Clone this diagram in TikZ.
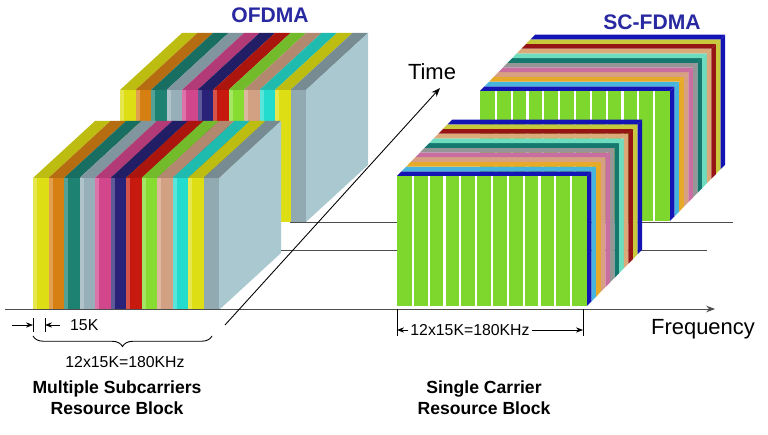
\documentclass[tikz,border=0pt]{standalone}
\usepackage{fontspec}
\setmainfont{Liberation Sans}
\usetikzlibrary{arrows.meta,decorations.pathreplacing,calc}
\definecolor{oy}{RGB}{222,222,20}
\definecolor{oo}{RGB}{214,128,20}
\definecolor{ot}{RGB}{30,130,115}
\definecolor{og}{RGB}{150,175,185}
\definecolor{op}{RGB}{210,70,140}
\definecolor{on}{RGB}{40,35,120}
\definecolor{ore}{RGB}{200,25,15}
\definecolor{ogr}{RGB}{135,220,50}
\definecolor{ota}{RGB}{210,160,130}
\definecolor{oc}{RGB}{35,220,205}
\definecolor{ogb}{RGB}{170,200,208}
\definecolor{scgreen}{RGB}{125,215,45}
\definecolor{sca}{RGB}{20,20,180}
\definecolor{scb}{RGB}{70,180,220}
\definecolor{scc}{RGB}{230,170,40}
\definecolor{scd}{RGB}{215,160,130}
\definecolor{sce}{RGB}{200,110,160}
\definecolor{scf}{RGB}{150,150,150}
\definecolor{scg}{RGB}{20,120,110}
\definecolor{sch}{RGB}{110,220,190}
\definecolor{sci}{RGB}{220,170,120}
\definecolor{scj}{RGB}{150,20,20}
\definecolor{sck}{RGB}{200,200,60}
\definecolor{titleblue}{RGB}{40,40,160}
\tikzset{
  axisline/.style={line width=0.5pt, black!70},
  dimline/.style={line width=0.5pt, -{Stealth[length=4pt]}},
  biglabel/.style={font=\fontsize{12.5}{14}\selectfont},
  smalllabel/.style={font=\fontsize{9}{11}\selectfont},
  boldlabel/.style={font=\bfseries\fontsize{10}{12}\selectfont, align=center},
  titlelabel/.style={font=\bfseries\fontsize{12}{14}\selectfont, text=titleblue}
}
% one block of subcarrier slabs, base corner at (#1,#2)
\newcommand{\ofdmablock}[2]{%
  \foreach \c [count=\i from 0] in {oy,oo,ot,og,op,on,ore,ogr,ota,oc,oy}{
    \pgfmathsetmacro\xa{#1+\i*15.5}
    \fill[\c!85!black] (\xa,#2+132) -- ++(62,57) -- ++(15.5,0) -- ++(-62,-57) -- cycle;
    \fill[\c] (\xa,#2) rectangle ++(15.5,132);
    \fill[\c!75!white] (\xa,#2) rectangle ++(4,132);
  }
  \fill[ogb!70!black] (#1+170.5,#2+132) -- ++(62,57) -- ++(15.5,0) -- ++(-62,-57) -- cycle;
  \fill[ogb!85!black] (#1+170.5,#2) rectangle ++(15.5,132);
  \fill[ogb] (#1+186,#2) -- ++(62,57) -- ++(0,132) -- ++(-62,-57) -- cycle;
}
% one single carrier block, base corner at (#1,#2)
\newcommand{\scblock}[2]{%
  \foreach \c [count=\j from 0] in {sca,scb,scc,scd,sce,scf,scg,sch,sci,scj,sck,sca}{
    \fill[\c] (#1+\j*4.6,#2+130+\j*4.7) -- ++(190,0) -- ++(4.6,4.7) -- ++(-190,0) -- cycle;
    \fill[\c] (#1+190+\j*4.6,#2+\j*4.7) -- ++(0,130) -- ++(4.6,4.7) -- ++(0,-130) -- cycle;
  }
  \fill[scgreen] (#1,#2) rectangle ++(190,130);
  \foreach \k in {1,...,11}
    \draw[white, line width=1.2pt] (#1+\k*190/12,#2) -- ++(0,130);
}
\begin{document}
\begin{tikzpicture}[x=0.02cm, y=0.02cm]
  \useasboundingbox (0,0) rectangle (768,-435);

  % background lines
  \draw[axisline] (290,-222) -- (733,-222);
  \draw[axisline] (275,-250) -- (707,-250);

  % blocks
  \ofdmablock{120}{-222}
  \ofdmablock{33}{-310}
  \scblock{480}{-221}
  \scblock{397}{-306}

  % axes
  \coordinate (fstart) at (5,-309);
  \coordinate (fend) at (715,-309);
  \draw[axisline, -{Stealth[length=5pt]}] (fstart) -- (fend);
  \coordinate (tstart) at (225,-325);
  \coordinate (tend) at (440,-88);
  \draw[axisline, black, -{Stealth[length=5pt]}] (tstart) -- (tend);

  \node[biglabel] (time) at (432,-72) {Time};
  \node[biglabel] (freq) at (703,-329) {Frequency};
  \node[titlelabel] (ofdma) at (270,-15) {OFDMA};
  \node[titlelabel] (scfdma) at (652,-22) {SC-FDMA};

  % subcarrier spacing
  \coordinate (sa) at (33,-325);
  \coordinate (sb) at (45,-325);
  \draw[line width=0.5pt] (33,-318) -- (33,-332);
  \draw[line width=0.5pt] (45,-318) -- (45,-332);
  \draw[dimline] (12,-325) -- (sa);
  \draw[dimline] (60,-325) -- (sb);
  \node[smalllabel, anchor=west] (spacing) at (64,-325) {15K};
  \coordinate (ba) at (33,-336);
  \coordinate (bb) at (212,-336);
  \draw[decorate, decoration={brace, mirror, amplitude=6pt}, line width=0.5pt] (ba) -- (bb);
  \node[smalllabel] (bwleft) at (125,-362) {12x15K=180KHz};
  \node[boldlabel] (multi) at (117,-398) {Multiple Subcarriers\\Resource Block};

  % single carrier width
  \draw[line width=0.5pt] (397,-309) -- (397,-336);
  \draw[line width=0.5pt] (583,-309) -- (583,-336);
  \node[smalllabel, fill=white, inner sep=1pt] (bwright) at (470,-330) {12x15K=180KHz};
  \coordinate (da) at (397,-330);
  \coordinate (db) at (583,-330);
  \draw[dimline] (bwright.west) -- (da);
  \draw[dimline] (bwright.east) -- (db);
  \node[boldlabel] (single) at (484,-398) {Single Carrier\\Resource Block};
\end{tikzpicture}
\end{document}
